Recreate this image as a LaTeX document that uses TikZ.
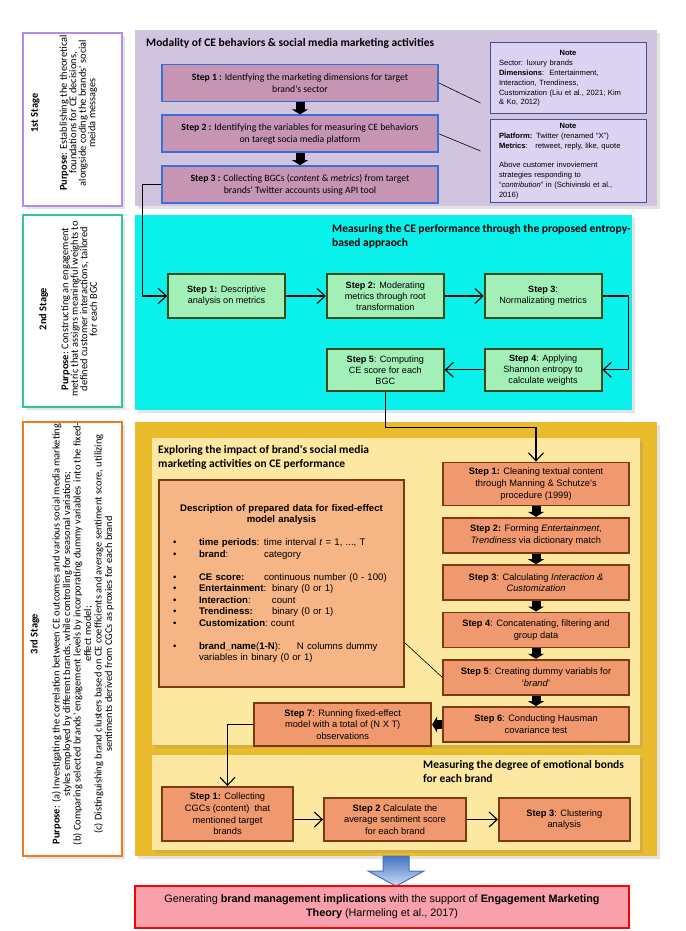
\documentclass[tikz,border=0pt]{standalone}
\usepackage{fontspec}
\setmainfont{Liberation Sans}
\newfontfamily\carlito{Carlito}
\usetikzlibrary{positioning, arrows.meta, calc, shadows}

\definecolor{stageA}{HTML}{B48CE6}
\definecolor{stageB}{HTML}{2FC98F}
\definecolor{stageC}{HTML}{F07A1E}
\definecolor{lilac}{HTML}{D0C4DF}
\definecolor{mauve}{HTML}{C795B4}
\definecolor{stepblue}{HTML}{3C6FD6}
\definecolor{notefill}{HTML}{DCD2F2}
\definecolor{noteline}{HTML}{45508A}
\definecolor{aqua}{HTML}{0AF0EA}
\definecolor{mint}{HTML}{A2F0B8}
\definecolor{mossline}{HTML}{3C4A18}
\definecolor{goldband}{HTML}{EBBB2E}
\definecolor{cream}{HTML}{FDE8A2}
\definecolor{peach}{HTML}{F5B584}
\definecolor{salmon}{HTML}{F0996F}
\definecolor{rust}{HTML}{7B3A12}
\definecolor{rose}{HTML}{F8A1AC}
\definecolor{arrowblue}{HTML}{4472C4}
\definecolor{arrowlight}{HTML}{C9DEF2}

\newcommand{\datarow}[3]{\hspace*{9pt}\makebox[26pt][l]{\textbullet}\makebox[#1][l]{#2}#3}

\begin{document}
\begin{tikzpicture}[x=1pt, y=-1pt,
	panel/.style={inner sep=0pt, drop shadow={opacity=0.22, shadow xshift=3pt, shadow yshift=-3pt}},
	stagebox/.style={draw, line width=1.6pt, fill=white, inner sep=0pt, minimum width=99pt, drop shadow={opacity=0.22, shadow xshift=3pt, shadow yshift=-3pt}},
	stagetext/.style={rotate=90, align=center, inner sep=0pt, font=\carlito\fontsize{10.4}{9.5}\selectfont},
	heading/.style={anchor=north west, align=left, inner sep=0pt, font=\carlito\bfseries\fontsize{11.5}{14}\selectfont},
	modstep/.style={draw=stepblue, line width=1.8pt, fill=mauve, align=center, minimum width=276pt, minimum height=37pt, inner sep=2pt, font=\carlito\fontsize{9.7}{12.5}\selectfont},
	notebox/.style={draw=noteline, line width=1pt, fill=notefill, text width=138pt, align=left, inner xsep=9pt, inner ysep=4pt, font=\fontsize{7.6}{9.8}\selectfont},
	ceastep/.style={draw=mossline, line width=1.8pt, fill=mint, align=center, minimum width=117pt, inner sep=2pt, font=\fontsize{9.1}{11}\selectfont},
	fxstep/.style={draw=rust, line width=1.8pt, fill=salmon, align=center, inner sep=2pt, font=\fontsize{9.3}{11.7}\selectfont},
	flow/.style={line width=1.1pt, -{Straight Barb[length=8pt, width=15pt]}},
	blockdown/.style={line width=9pt, -{Triangle[length=5pt, width=16pt]}},
]
	\useasboundingbox (0,0) rectangle (685,931);
	\fill[white] (0,0) rectangle (685,931);

	% stages on the left
	\node[stagebox, draw=stageA, minimum height=173pt] (stage1) at (72.5,119.5) {};
	\node[stagebox, draw=stageB, minimum height=192pt] (stage2) at (72.5,311) {};
	\node[stagebox, draw=stageC, minimum height=434pt] (stage3) at (72.5,639) {};
	\node[stagetext] (stage1txt) at (64,113) {\textbf{1st Stage}\\[19.5pt]\textbf{Purpose}: Establishing the theoretical\\foundations for CE decisions,\\alongside coding the brands' social\\meida messages};
	\node[stagetext] (stage2txt) at (68,309) {\textbf{2nd Stage}\\[12.5pt]\textbf{Purpose}: Constructing an engagement\\metric that assigns meaningful weights to\\defined customer interactions, tailored\\for each BGC};
	\node[stagetext, font=\carlito\fontsize{10.4}{10.5}\selectfont] (stage3txt) at (72,634) {\textbf{3rd Stage}\\[11.5pt]\textbf{Purpose}: (a) Investigating the correlation between CE outcomes and various social media marketing\\styles employed by different brands, while controlling for seasonal variations;\\(b) Comparing selected brands' engagement levels by incorporating dummy variables\ \ into the fixed-\\effect model;\\(c) Distinguishing brand clusters based on CE coefficients and average sentiment score, utilizing\\sentiments derived from CGCs as proxies for each brand};

	% panels
	\node[panel, fill=lilac, minimum width=522pt, minimum height=176pt] (modality) at (396,118) {};
	\node[panel, fill=aqua, minimum width=497pt, minimum height=195pt] (entropy) at (383.5,312.5) {};
	\node[panel, fill=goldband, minimum width=522pt, minimum height=434pt] (fixedeff) at (396,639) {};
	\node[panel, fill=cream, minimum width=488pt, minimum height=307pt] (impact) at (396,591.5) {};
	\node[panel, fill=cream, minimum width=488pt, minimum height=95pt] (bonds) at (396,802.5) {};

	\node[heading] (modalityttl) at (146,38) {Modality of CE behaviors \& social media marketing activities};
	\node[heading] (entropyttl) at (332,224) {Measuring the CE performance through the proposed entropy-\\based appraoch};
	\node[heading] (impactttl) at (158,445) {Exploring the impact of brand's social media\\marketing activities on CE performance};
	\node[heading] (bondsttl) at (423,760) {Measuring the degree of emotional bonds\\for each brand};

	% 1st stage
	\node[modstep] (mod1) at (300,83) {\textbf{Step 1 :} Identfying the marketing dimensions for target\\brand's sector};
	\node[modstep, below=12pt of mod1] (mod2) {\textbf{Step 2 :} Identifying the variables for measuring CE behaviors\\on taregt socia media platform};
	\node[modstep, below=12pt of mod2] (mod3) {\textbf{Step 3 :} Collecting BGCs (\textit{content} \& \textit{metrics}) from target\\brands' Twitter accounts using API tool};
	\foreach \a/\b in {mod1/mod2, mod2/mod3}
		\draw[blockdown] (\a) -- (\b);

	\node[notebox, minimum height=71pt] (note1) at (568,78.5) {{\centering\textbf{Note}\par}Sector: luxury brands\\\textbf{Dimensions}:\ \ Entertainment,\\Interaction, Trendiness,\\Customization (Liu et al., 2021; Kim\\\& Ko, 2012)};
	\node[notebox, minimum height=80pt] (note2) at (568,161) {{\centering\textbf{Note}\par}\textbf{Platform:} Twitter (renamed “X”)\\\textbf{Metrics}:\ \ \ retweet, reply, like, quote\\[9.8pt]Above customer invoviement\\strategies responding to\\“\textit{contribution}” in (Schivinski et al.,\\2016)};
	\coordinate (note1tip) at ($(note1.west)+(-9,24.5)$);
	\coordinate (note2tip) at ($(note2.west)+(-9,-10)$);
	\draw[line width=0.6pt] (mod1.east) -- (note1tip);
	\draw[line width=0.6pt] (mod2.east) -- (note2tip);

	% 2nd stage
	\node[ceastep, minimum height=44pt] (cea1) at (226.5,296) {\textbf{Step 1:} Descriptive\\analysis on metrics};
	\node[ceastep, minimum height=44pt, right=40pt of cea1] (cea2) {\textbf{Step 2:} Moderating\\metrics through root\\transformation};
	\node[ceastep, minimum height=44pt, right=39pt of cea2] (cea3) {\textbf{Step 3}:\\Normalizating metrics};
	\node[ceastep, minimum height=42pt, below=29pt of cea3] (cea4) {\textbf{Step 4}: Applying\\Shannon entropy to\\calculate weights};
	\node[ceastep, minimum height=42pt, left=39pt of cea4] (cea5) {\textbf{Step 5}: Computing\\CE score for each\\BGC};

	\draw[flow] (mod3.west) -- ++(-19,0) |- (cea1.west);
	\draw[flow] (cea1) -- (cea2);
	\draw[flow] (cea2) -- (cea3);
	\draw[flow] (cea3.east) -- ++(26,0) |- (cea4.east);
	\draw[flow] (cea4) -- (cea5);

	% 3rd stage
	\node[draw=rust, line width=1.5pt, fill=peach, minimum width=245pt, minimum height=207pt, text width=235pt, inner sep=5pt, align=left, font=\fontsize{9.6}{11.5}\selectfont] (datadesc) at (281.5,583.5) {{\centering\textbf{Description of prepared data for fixed-effect\\model analysis}\par}\vspace{11.5pt}
		\datarow{65pt}{\textbf{time periods}:}{time interval \textit{t} = 1, ..., T}\\
		\datarow{65pt}{\textbf{brand}:}{category}\\[11.5pt]
		\datarow{65pt}{\textbf{CE score:}}{continuous number (0 - 100)}\\
		\datarow{73pt}{\textbf{Entertainment}:}{binary (0 or 1)}\\
		\datarow{73pt}{\textbf{Interaction}:}{count}\\
		\datarow{73pt}{\textbf{Trendiness:}}{binary (0 or 1)}\\
		\datarow{72pt}{\textbf{Customization}:}{count}\\[11.5pt]
		\datarow{98pt}{\textbf{brand\_name}(\textbf{1-N}):}{N columns dummy}\\
		\hspace*{35pt}variables in binary (0 or 1)};

	\node[fxstep, minimum width=186pt, minimum height=43pt] (fx1) at (536,484) {\textbf{Step 1:} Cleaning textual content\\through Manning \& Schutze's\\procedure (1999)};
	\node[fxstep, minimum width=186pt, minimum height=35pt, below=10.5pt of fx1] (fx2) {\textbf{Step 2:} Forming \textit{Entertainment},\\\textit{Trendiness} via dictionary match};
	\node[fxstep, minimum width=186pt, minimum height=35pt, below=10.5pt of fx2] (fx3) {\textbf{Step 3}: Calculating \textit{Interaction \&}\\\textit{Customization}};
	\node[fxstep, minimum width=186pt, minimum height=35pt, below=10.5pt of fx3] (fx4) {\textbf{Step 4}: Concatenating, filtering and\\group data};
	\node[fxstep, minimum width=186pt, minimum height=35pt, below=10.5pt of fx4] (fx5) {\textbf{Step 5}: Creating dummy variabls for\\`\textit{brand}'};
	\node[fxstep, minimum width=186pt, minimum height=35pt, below=10.5pt of fx5] (fx6) {\textbf{Step 6}: Conducting Hausman\\covariance test};
	\node[fxstep, minimum width=177pt, minimum height=43pt, left=10pt of fx6] (fx7) {\textbf{Step 7}: Running fixed-effect\\model with a total of (N X T)\\observations};
	\foreach \a/\b in {fx1/fx2, fx2/fx3, fx3/fx4, fx4/fx5, fx5/fx6, fx6/fx7}
		\draw[blockdown] (\a) -- (\b);

	\draw[flow] (cea5.south) -- ++(0,36) -| (fx1.north);
	\draw[line width=0.6pt] ($(datadesc.south east)+(0,-45)$) -- (fx5.west);

	\node[fxstep, minimum width=131pt, minimum height=54pt] (bond1) at (227.5,814) {\textbf{Step 1:} Collecting\\CGCs (content)\ \ that\\mentioned target\\brands};
	\node[fxstep, minimum width=142pt, minimum height=43pt] (bond2) at (395,819.5) {\textbf{Step 2} Calculate the\\average sentiment score\\for each brand};
	\node[fxstep, minimum width=131pt, minimum height=43pt, right=31pt of bond2] (bond3) {\textbf{Step 3}: Clustering\\analysis};

	\draw[flow] (fx7.west) -| (bond1.north);
	\draw[flow] (bond1.east |- bond2.west) -- (bond2.west);
	\draw[flow] (bond2) -- (bond3);

	% outcome
	\draw[draw=arrowblue, line width=1pt, top color=arrowblue, bottom color=arrowlight]
		(383,856) -- (409,856) -- (409,871) -- (424,871) -- (396,886) -- (368,871) -- (383,871) -- cycle;
	\node[draw=red, line width=2pt, fill=rose, minimum width=494pt, minimum height=42pt, align=center, font=\fontsize{10.8}{14}\selectfont] (implication) at (382,907) {Generating \textbf{brand management implications} with the support of \textbf{Engagement Marketing}\\\textbf{Theory} (Harmeling et al., 2017)};
\end{tikzpicture}
\end{document}
